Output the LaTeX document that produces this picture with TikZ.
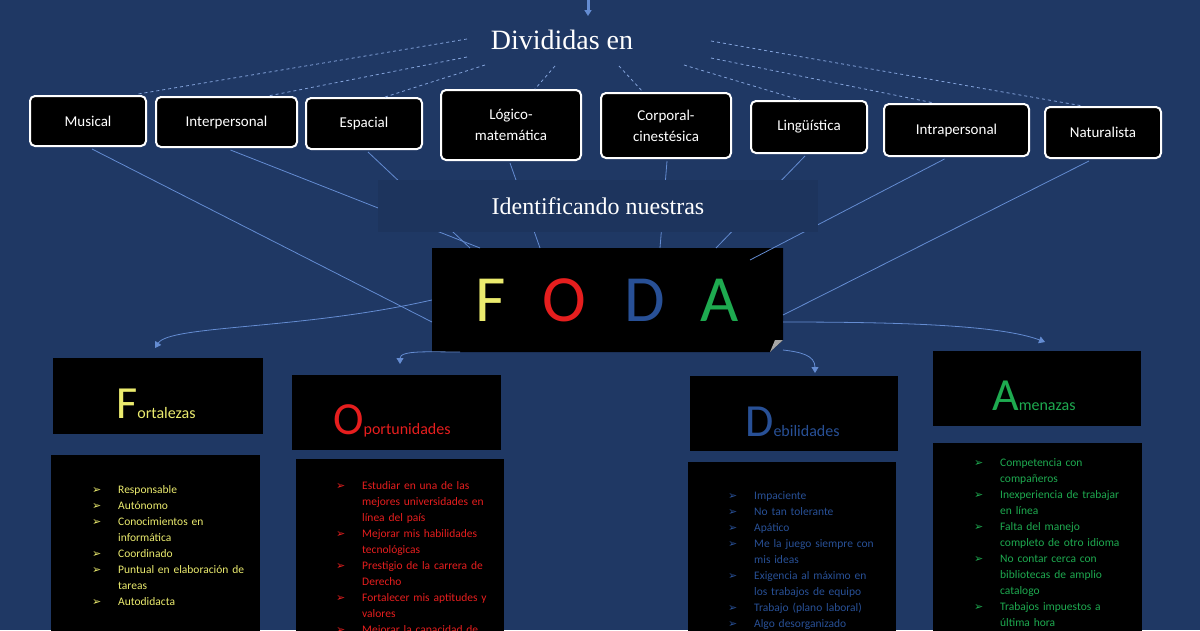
\documentclass[tikz,border=0pt]{standalone}
\usepackage{fontspec}
\setmainfont{Carlito}
\newfontfamily\symf{DejaVu Sans}
\newfontfamily\titf{Liberation Serif}
\usetikzlibrary{arrows.meta}
\definecolor{bg}{RGB}{31,56,100}
\definecolor{lnk}{RGB}{100,140,210}
\definecolor{fy}{RGB}{235,235,110}
\definecolor{fr}{RGB}{230,30,30}
\definecolor{fb}{RGB}{40,80,150}
\definecolor{fg}{RGB}{30,170,80}
\newcommand{\itm}[1]{\par\noindent\hangindent=26pt\hangafter=1\makebox[26pt][l]{{\symf\fontsize{11}{16}\selectfont ➢}}#1}
\newcommand{\nohyph}{\hyphenpenalty=10000 \exhyphenpenalty=10000 \rightskip=0pt plus 3em\relax}
\tikzset{
 intel/.style={draw=white,line width=2pt,fill=black,rounded corners=5pt,text=white,font=\fontsize{15}{17}\selectfont,align=center,inner sep=0pt},
 dln/.style={draw=lnk!80,dashed,line width=0.8pt},
 sln/.style={draw=lnk,line width=0.8pt},
 hdr/.style={fill=black,inner sep=0pt,anchor=north west},
 lst/.style={fill=black,inner sep=0pt,anchor=north west},
 lsttext/.style={anchor=north west,text width=#1,align=left,inner sep=0pt,font=\fontsize{11.5}{16}\selectfont},
 arr/.style={draw=lnk,line width=0.8pt,-{Triangle[width=7pt,length=6pt]}}
}
\begin{document}
\begin{tikzpicture}[x=1pt,y=-1pt]
\useasboundingbox (0,0) rectangle (1200,630);
\clip (0,0) rectangle (1200,630);
\fill[bg] (0,0) rectangle (1200,630);
\coordinate (ta) at (588,0);
\coordinate (tb) at (588,16);
\draw[arr,line width=3pt] (ta) -- (tb);
\node[text=white,font=\titf\fontsize{28}{32}\selectfont] (div) at (562,40) {Divididas en};
\node[intel,minimum width=116pt,minimum height=50pt] (mus) at (88,121) {Musical};
\node[intel,minimum width=141pt,minimum height=50pt] (inter) at (226.5,122) {Interpersonal};
\node[intel,minimum width=116pt,minimum height=51pt] (esp) at (364,123.5) {Espacial};
\node[intel,minimum width=140pt,minimum height=70pt] (log) at (511,125) {Lógico-\\[4pt]matemática};
\node[intel,minimum width=130pt,minimum height=65pt] (cor) at (666,125.5) {Corporal-\\[4pt]cinestésica};
\node[intel,minimum width=116pt,minimum height=52pt] (lin) at (809,127) {Lingüística};
\node[intel,minimum width=145pt,minimum height=52pt] (intra) at (956.5,130) {Intrapersonal};
\node[intel,minimum width=116pt,minimum height=51pt] (nat) at (1103,132.5) {Naturalista};
\coordinate (d1) at (467,39); \coordinate (d2) at (467,57); \coordinate (d3) at (485,65);
\coordinate (d4) at (555,66); \coordinate (d5) at (619,66); \coordinate (d6) at (684,65);
\coordinate (d7) at (711,58); \coordinate (d8) at (711,41);
\draw[dln] (d1) -- (138,94);
\draw[dln] (d2) -- (268,96);
\draw[dln] (d3) -- (385,97);
\draw[dln] (d4) -- (535,89);
\draw[dln] (d5) -- (643,92);
\draw[dln] (d6) -- (800,100);
\draw[dln] (d7) -- (934,103);
\draw[dln] (d8) -- (1083,106);
\fill[black] (432,248) -- (783,248) -- (783,340) -- (770,352) -- (432,352) -- cycle;
\fill[gray!70] (770,352) -- (775,340) -- (783,340) -- cycle;
\node[minimum width=351pt,minimum height=104pt,inner sep=0pt] (foda) at (607.5,300) {};
\foreach \c/\l/\xx in {fy/F/491,fr/O/564,fb/D/645,fg/A/720}
  \node[text=\c,font=\fontsize{66}{66}\selectfont] at (\xx,300) {\l};
\draw[sln] (mus.south) ++(4,2) -- (432,322);
\draw[sln] (inter.south) ++(4,2) -- (480,248);
\draw[sln] (esp.south) ++(4,2) -- (470,248);
\draw[sln] (log.south) ++(-1,2) -- (540,248);
\draw[sln] (cor.south) ++(1,2) -- (660,248);
\draw[sln] (lin.south) ++(-4,2) -- (716,248);
\draw[sln] (intra.south) ++(-12,2) -- (750,260);
\draw[sln] (nat.south) ++(-14,2) -- (783,315);
\node[fill=bg!93!black,text=white,font=\titf\fontsize{24}{28}\selectfont,minimum width=440pt,minimum height=52pt] (idn) at (598,206) {Identificando nuestras};
\node[hdr,minimum width=210pt,minimum height=76pt] (hf) at (53,358) {};
\node[hdr,minimum width=209pt,minimum height=75pt] (ho) at (292,375) {};
\node[hdr,minimum width=208pt,minimum height=75pt] (hd) at (690,376) {};
\node[hdr,minimum width=208pt,minimum height=75pt] (ha) at (933,351) {};
\node[anchor=base west,inner sep=0pt,text=fy] at (116,418) {{\fontsize{46}{46}\selectfont F}{\fontsize{16}{16}\selectfont ortalezas}};
\node[anchor=base west,inner sep=0pt,text=fr] at (333,434) {{\fontsize{46}{46}\selectfont O}{\fontsize{16}{16}\selectfont portunidades}};
\node[anchor=base west,inner sep=0pt,text=fb] at (745,436) {{\fontsize{46}{46}\selectfont D}{\fontsize{16}{16}\selectfont ebilidades}};
\node[anchor=base west,inner sep=0pt,text=fg] at (992,410) {{\fontsize{46}{46}\selectfont A}{\fontsize{16}{16}\selectfont menazas}};
\draw[arr] (foda.west) .. controls (300,330) and (170,325) .. (155,348);
\draw[arr] (460,352) .. controls (430,352) and (400,350) .. (400,364);
\draw[arr] (783,350) .. controls (800,352) and (815,355) .. (815,373);
\draw[arr] (783,322) .. controls (900,322) and (1000,325) .. (1045,342);
\node[lst,minimum width=209pt,minimum height=180pt] (lf) at (51,455) {};
\node[lst,minimum width=208pt,minimum height=180pt] (lo) at (296,459) {};
\node[lst,minimum width=208pt,minimum height=180pt] (ld) at (688,462) {};
\node[lst,minimum width=209pt,minimum height=190pt] (la) at (933,443) {};
\node[lsttext=162pt,text=fy] at (92,477) {\nohyph\itm{Responsable}\itm{Autónomo}\itm{Conocimientos en informática}\itm{Coordinado}\itm{Puntual en elaboración de tareas}\itm{Autodidacta}};
\node[lsttext=160pt,text=fr] at (336,473) {\nohyph\itm{Estudiar en una de las mejores universidades en línea del país}\itm{Mejorar mis habilidades tecnológicas}\itm{Prestigio de la carrera de Derecho}\itm{Fortalecer mis aptitudes y valores}\itm{Mejorar la capacidad de aprendizaje}};
\node[lsttext=154pt,text=fb] at (728,483) {\nohyph\itm{Impaciente}\itm{No tan tolerante}\itm{Apático}\itm{Me la juego siempre con mis ideas}\itm{Exigencia al máximo en los trabajos de equipo}\itm{Trabajo (plano laboral)}\itm{Algo desorganizado}\itm{Distraído}};
\node[lsttext=152pt,text=fg] at (974,450) {\nohyph\itm{Competencia con compañeros}\itm{Inexperiencia de trabajar en línea}\itm{Falta del manejo completo de otro idioma}\itm{No contar cerca con bibliotecas de amplio catalogo}\itm{Trabajos impuestos a última hora}\itm{Decidir por parte de otros}};
\end{tikzpicture}
\end{document}
